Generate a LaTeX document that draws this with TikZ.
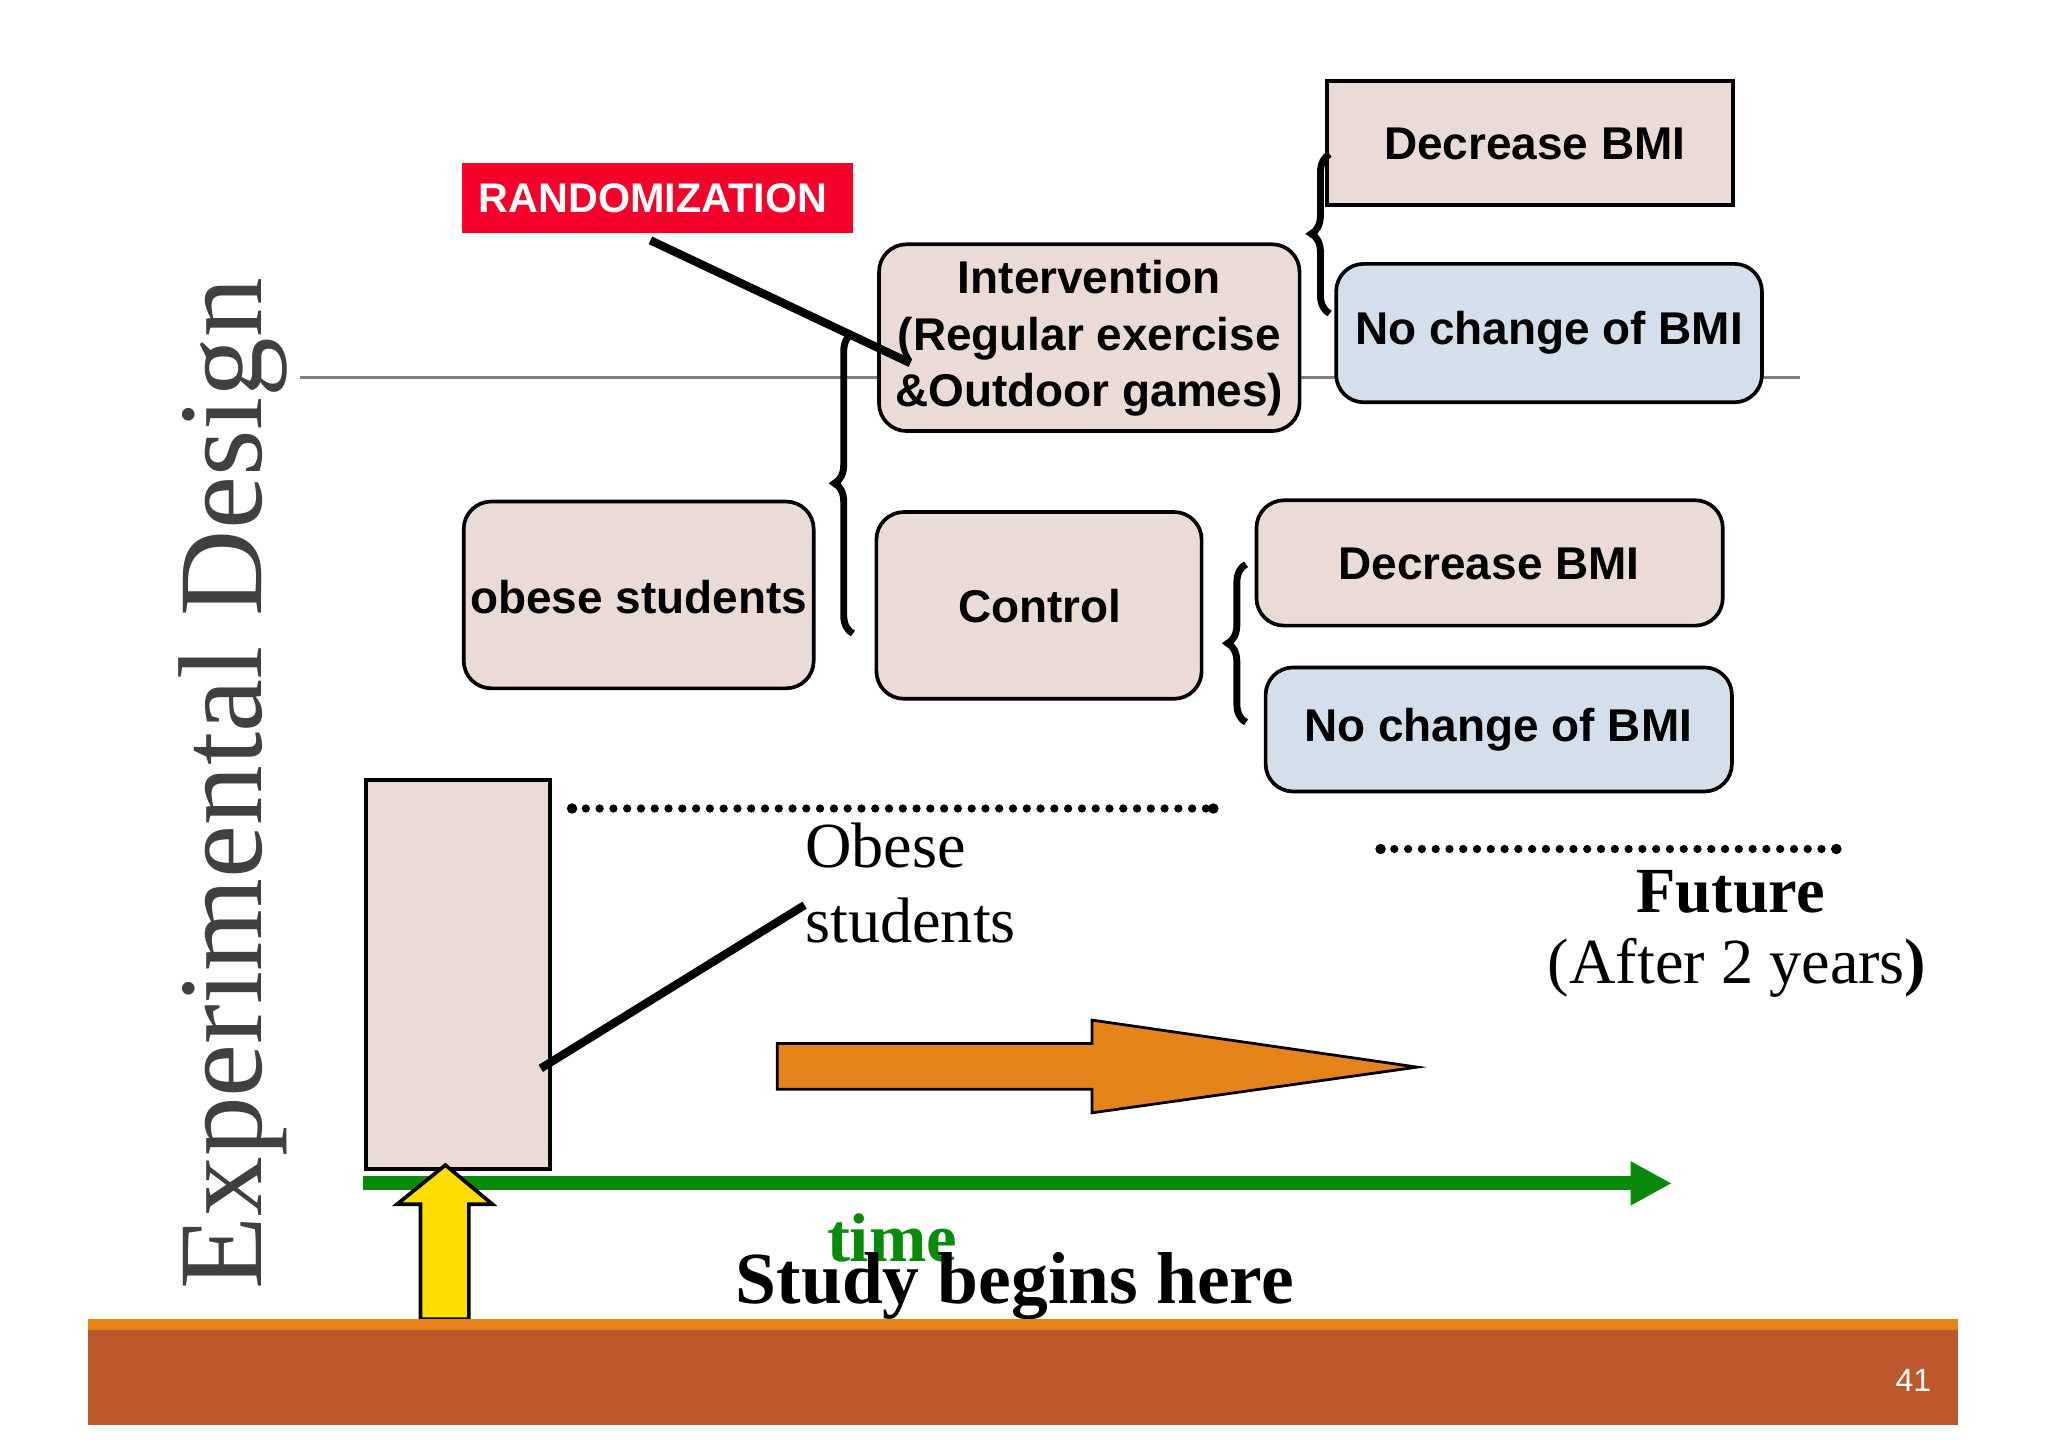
\documentclass[tikz,border=0pt]{standalone}
\usepackage{fontspec}
\setmainfont{Liberation Serif}
\setsansfont{Liberation Sans}
\usetikzlibrary{decorations.pathreplacing,arrows.meta}
\definecolor{pinkf}{HTML}{EADBD7}
\definecolor{bluef}{HTML}{D3DFEA}
\definecolor{orangef}{HTML}{E5841A}
\definecolor{brownf}{HTML}{BD582C}
\definecolor{greenf}{HTML}{0A8A0A}
\definecolor{randred}{HTML}{F5002A}
\tikzset{
 rbox/.style={draw=black,line width=0.8pt,rounded corners=6pt},
 btxt/.style={font=\sffamily\bfseries\fontsize{10}{13}\selectfont,align=center},
 brc/.style={decorate,decoration={brace,amplitude=4pt},line width=1.5pt},
 dots/.style={line width=1.8pt,dash pattern=on 0pt off 3pt,line cap=round}
}
\begin{document}
\begin{tikzpicture}[x=0.01cm,y=-0.01cm]
\useasboundingbox[fill=white] (0,0) rectangle (1568,1108);
\draw[gray,line width=0.8pt] (230,289) -- (1378,289);
\node[rotate=90,text=black!75,font=\fontsize{26}{30}\selectfont] (title) at (178,600) {Experimental Design};
\fill[randred] (354,125) rectangle (653,178);
\node[text=white,font=\sffamily\bfseries\fontsize{9}{11}\selectfont] (randt) at (500,152) {RANDOMIZATION};
% boxes
\draw[rbox,fill=pinkf] (673,187) rectangle (995,330);
\node[btxt,font=\sffamily\bfseries\fontsize{10}{12.3}\selectfont] (interv) at (834,259) {Intervention\\(Regular exercise\\\&Outdoor games)};
\draw[line width=0.8pt,fill=pinkf] (1016,62) rectangle (1327,157);
\node[btxt] (dec1) at (1175,110) {Decrease BMI};
\draw[rbox,fill=bluef] (1023,202) rectangle (1349,308);
\node[btxt] (nc1) at (1186,255) {No change of BMI};
\draw[rbox,fill=pinkf] (355,384) rectangle (623,527);
\node[btxt] (obese) at (489,457) {obese students};
\draw[rbox,fill=pinkf] (671,392) rectangle (920,535);
\node[btxt] (ctrl) at (796,464) {Control};
\draw[rbox,fill=pinkf] (962,383) rectangle (1319,479);
\node[btxt] (dec2) at (1140,432) {Decrease BMI};
\draw[rbox,fill=bluef] (969,511) rectangle (1326,606);
\node[btxt] (nc2) at (1147,559) {No change of BMI};
% braces
\draw[brc] (653,485) -- (653,255);
\draw[brc] (1018,240) -- (1018,118);
\draw[brc] (954,553) -- (954,432);
\coordinate (rs) at (498,184); \coordinate (re) at (697,278);
\draw[line width=1.8pt] (rs) -- (re);
% lower part
\draw[line width=0.8pt,fill=pinkf] (280,597) rectangle (421,895);
\draw[dots] (438,619) -- (929,619);
\fill (438,619) circle (4); \fill (929,619) circle (4);
\draw[dots] (1057,650) -- (1406,650);
\fill (1057,650) circle (4); \fill (1406,650) circle (4);
\node[anchor=west,font=\fontsize{14}{16}\selectfont] (ob1) at (604,647) {Obese};
\node[anchor=west,font=\fontsize{14}{16}\selectfont] (ob2) at (604,705) {students};
\coordinate (ls) at (414,818); \coordinate (le) at (616,693);
\draw[line width=1.8pt] (ls) -- (le);
\node[font=\bfseries\fontsize{14}{16}\selectfont] (fut) at (1325,683) {Future};
\node[font=\fontsize{14}{16}\selectfont] (aft) at (1330,741) {(After 2 years\textbf{)}};
\draw[fill=orangef,line width=0.6pt] (595,799) -- (836,799) -- (836,781) -- (1085,817) -- (836,852) -- (836,834) -- (595,834) -- cycle;
\coordinate (gs) at (278,906); \coordinate (ge) at (1280,906);
\draw[greenf,line width=3pt,-{Triangle[length=9pt,width=9pt]}] (gs) -- (ge);
\draw[fill=yellow!80!orange,line width=0.8pt] (322,1010) -- (322,922) -- (304,922) -- (341,892) -- (377,922) -- (359,922) -- (359,1010) -- cycle;
\node[text=greenf,font=\bfseries\fontsize{15}{17}\selectfont] (time) at (683,948) {time};
\node[font=\bfseries\fontsize{16}{18}\selectfont] (study) at (777,985) {Study begins here};
\fill[orangef] (67,1010) rectangle (1499,1018);
\fill[brownf] (67,1018) rectangle (1499,1091);
\node[text=white,font=\sffamily\fontsize{7}{8}\selectfont] (pg) at (1465,1057) {41};
\end{tikzpicture}
\end{document}
